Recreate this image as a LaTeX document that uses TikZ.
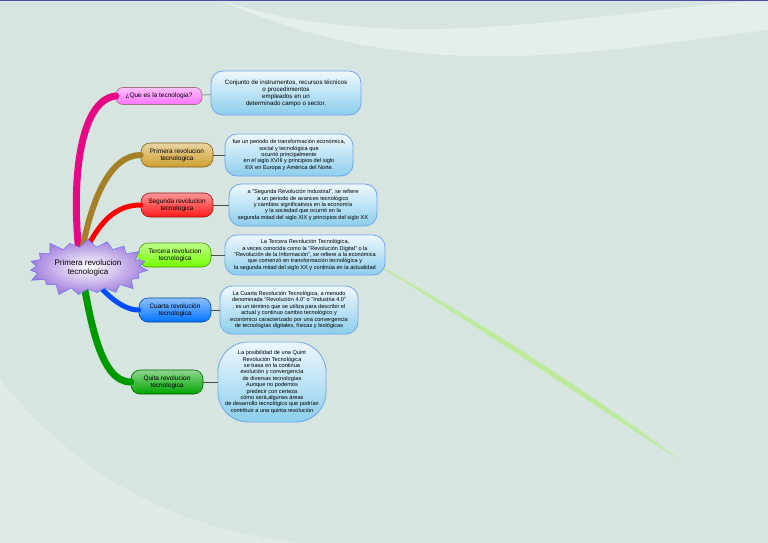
\documentclass[tikz,border=0pt]{standalone}
\usepackage{fontspec}
\setmainfont{Liberation Sans}
\usetikzlibrary{shapes.symbols,shapes.misc}
\definecolor{descb}{RGB}{140,206,236}
\tikzset{
 cat/.style={draw=#1!60!black, rounded corners=9pt, minimum width=72pt, minimum height=24pt, inner sep=1pt, align=center, font=\fontsize{6.5}{7}\selectfont, top color=#1!45!white, bottom color=#1, line width=0.6pt},
 desc/.style={draw=descb!80!blue, rounded corners=12pt, top color=descb!15!white, bottom color=descb, align=center, inner sep=1pt, font=\fontsize{5.6}{6.4}\selectfont, line width=0.8pt},
 link/.style={draw=black!70, line width=0.5pt},
 br/.style={line width=#1, line cap=round}
}
\begin{document}
\begin{tikzpicture}[x=1pt,y=-1pt]
\fill[fill={rgb,255:red,214;green,229;blue,223}] (0,0) rectangle (768,543);
\useasboundingbox (0,0) rectangle (768,543);
\fill[white,opacity=0.35] (220,0) .. controls (400,60) and (600,10) .. (768,0) -- (768,30) .. controls (600,50) and (420,90) .. (220,0);
\fill[white,opacity=0.3] (330,230) .. controls (500,330) and (650,430) .. (700,470) .. controls (640,420) and (480,320) .. (330,230);
\fill[green!50!yellow,opacity=0.3] (360,255) .. controls (480,320) and (600,400) .. (680,460) .. controls (600,410) and (470,320) .. (360,255);
\fill[white,opacity=0.25] (0,380) .. controls (100,500) and (200,530) .. (300,543) -- (0,543) -- cycle;
\draw[blue!40!gray,line width=1pt] (0,0.5) -- (768,0.5);

\coordinate (c) at (80,262);
\node[cat=magenta!55!white, rounded corners=7pt, minimum width=86pt, minimum height=17pt] (q) at (159,96) {¿Que es la tecnologia?};
\node[cat=brown!75!yellow] (p1) at (177,155) {Primera revolucion\\tecnologica};
\node[cat=red!90!white] (p2) at (177,205) {Segunda revolucion\\tecnologica};
\node[cat=green!55!yellow] (p3) at (175,255) {Tercera revolucion\\tecnologica};
\node[cat=blue!55!cyan] (p4) at (175,310) {Cuarta revolución\\tecnologica};
\node[cat=green!65!black] (p5) at (167,382) {Quita revolucion\\tecnologica};

\draw[br=7pt, magenta!90!purple] (c) .. controls (70,180) and (80,100) .. (q.west);
\draw[br=6pt, brown!60!olive] (c) .. controls (90,200) and (110,155) .. (p1.west);
\draw[br=5pt, red] (c) .. controls (95,230) and (110,205) .. (p2.west);
\draw[br=5pt, green!45!yellow] (c) .. controls (100,260) and (120,255) .. (p3.west);
\draw[br=5pt, blue!70!cyan] (c) .. controls (100,290) and (120,310) .. (p4.west);
\draw[br=7pt, green!60!black] (c) .. controls (90,320) and (100,382) .. (p5.west);

\node[starburst, starburst points=19, starburst point height=11pt, draw=blue!60!white, inner color=white, outer color=blue!45!violet!50, minimum width=112pt, minimum height=64pt, align=center, font=\fontsize{8}{8.5}\selectfont] (cen) at (88,268) {Primera revolucion\\tecnologica};

\node[desc, minimum width=150pt, minimum height=44pt, font=\fontsize{6.2}{7}\selectfont] (d0) at (286,93) {Conjunto de instrumentos, recursos técnicos\\o procedimientos\\empleados en un\\determinado campo o sector.};
\node[desc, minimum width=128pt, minimum height=42pt] (d1) at (289,155) {fue un periodo de transformación económica,\\social y tecnológica que\\ocurrió principalmente\\en el siglo XVIII y principios del siglo\\XIX en Europa y América del Norte.};
\node[desc, minimum width=148pt, minimum height=42pt] (d2) at (303,205) {a "Segunda Revolución Industrial", se refiere\\a un periodo de avances tecnológico\\y cambios significativos en la economía\\y la sociedad que ocurrió en la\\segunda mitad del siglo XIX y principios del siglo XX};
\node[desc, minimum width=160pt, minimum height=40pt] (d3) at (305,255) {La Tercera Revolución Tecnológica,\\a veces conocida como la "Revolución Digital" o la\\"Revolución de la Información", se refiere a la económica\\que comenzó en transformación tecnológica y\\la segunda mitad del siglo XX y continúa en la actualidad};
\node[desc, minimum width=138pt, minimum height=48pt] (d4) at (289,310) {La Cuarta Revolución Tecnológica, a menudo\\denominada "Revolución 4.0" o "Industria 4.0"\\, es un término que se utiliza para describir el\\actual y continuo cambio tecnológico y\\económico caracterizado por una convergencia\\de tecnologías digitales, físicas y biológicas};
\node[desc, rounded corners=30pt, minimum width=108pt, minimum height=80pt] (d5) at (272,382) {La posibilidad de una Quint\\Revolución Tecnológica\\se basa en la continua\\evolución y convergencia\\de diversas tecnologías\\Aunque no podemos\\predecir con certeza\\cómo será,algunas áreas\\de desarrollo tecnológico que podrían\\contribuir a una quinta revolución};

\draw[link] (q) -- (d0);
\draw[link] (p1) -- (d1);
\draw[link] (p2) -- (d2);
\draw[link] (p3) -- (d3);
\draw[link] (p4) -- (d4);
\draw[link] (p5) -- (d5);
\end{tikzpicture}
\end{document}
